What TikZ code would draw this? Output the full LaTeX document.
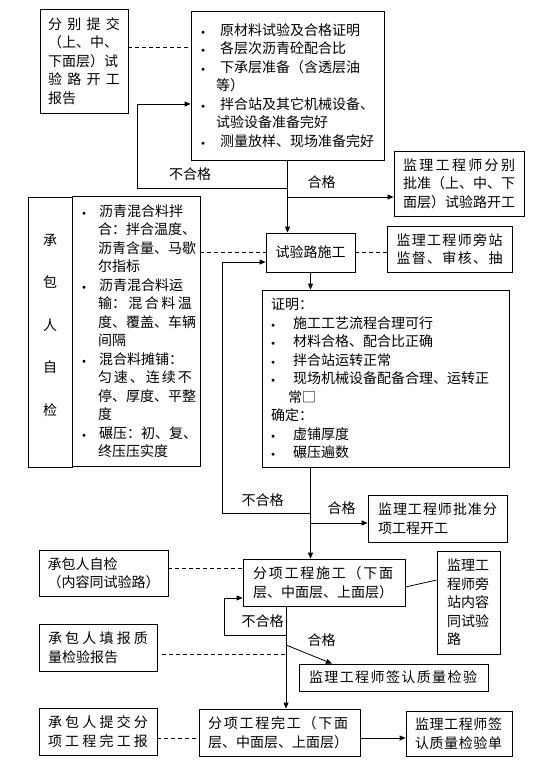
\documentclass[tikz,border=0pt]{standalone}
\usepackage{fontspec}
\setmainfont{Noto Sans CJK SC}
\usetikzlibrary{arrows.meta}
\newcommand\cnfont{\fontsize{14pt}{18.5pt}\selectfont}
\newcommand\spreadto[2]{\makebox[#1][s]{\spaceskip=0pt plus 1fil\relax #2}}
\newcommand\bul[1]{\makebox[#1][l]{\raisebox{1pt}{$\scriptscriptstyle\bullet$}}}

\begin{document}
\begin{tikzpicture}[x=1pt,y=-1pt,line width=0.8pt,
  box/.style={draw,font=\cnfont,align=left},
  lbl/.style={font=\cnfont,inner sep=0pt},
  arr/.style={-{Triangle[length=6pt,width=5pt]}},
  dashlink/.style={dash pattern=on 4pt off 3pt}]
  \useasboundingbox (0,0) rectangle (541,773);

  %top
  \node[box,at={(84,61)},text width=72pt,inner xsep=8pt,minimum height=104pt] (rep) {\spreadto{72pt}{分 别 提 交}\\（上、中、\\下面层）试\\ \spreadto{72pt}{验 路 开 工}\\报告};
  \node[box,at={(287.5,85.5)},text width=173pt,inner xsep=10pt,minimum height=149pt] (prep) {\bul{19pt}原材料试验及合格证明\\
    \bul{19pt}各层次沥青砼配合比\\
    \bul{19pt}下承层准备（含透层油\\
    \hspace*{15pt}等）\\
    \bul{19pt}拌合站及其它机械设备、\\
    \hspace*{15pt}试验设备准备完好\\
    \bul{19pt}测量放样、现场准备完好};
  \node[box,at={(459,183.5)},text width=112pt,inner xsep=9pt,minimum height=65pt] (approve1) {\spreadto{112pt}{监 理 工 程 师 分 别}\\批准（上、中、下\\面层）试验路开工};
  \node[lbl] (fail1) at (190,174) {不合格};
  \node[lbl] (pass1) at (321.5,182) {合格};

  %trial section
  \node[box,align=center,at={(310.5,252.5)},minimum width=89pt,minimum height=39pt] (trial) {试验路施工};
  \node[box,at={(449.5,249)},text width=106pt,inner xsep=9.5pt,minimum height=46pt] (superv1) {\spreadto{106pt}{监 理 工 程 师 旁 站}\\ \spreadto{106pt}{监 督 、 审 核 、 抽}};
  \node[box,at={(385.5,378.5)},text width=229pt,inner xsep=9pt,minimum height=177pt] (proof) {证明：\\
    \bul{22pt}施工工艺流程合理可行\\
    \bul{22pt}材料合格、配合比正确\\
    \bul{22pt}拌合站运转正常\\
    \bul{22pt}现场机械设备配备合理、运转正\\
    \hspace*{17pt}常□\\
    确定：\\
    \bul{22pt}虚铺厚度\\
    \bul{22pt}碾压遍数};
  \node[box,at={(50,332)},minimum width=44pt,minimum height=270pt] (self) {};
  \node[font=\fontsize{14pt}{42.5pt}\selectfont,align=center] (selftxt) at (50,325) {承\\包\\人\\自\\检};
  \node[box,at={(136,331)},text width=108pt,inner xsep=10pt,minimum height=270pt] (items) {\bul{17pt}沥青混合料拌\\
    \hspace*{16pt}合：拌合温度、\\
    \hspace*{16pt}沥青含量、马歇\\
    \hspace*{16pt}尔指标\\
    \bul{17pt}沥青混合料运\\
    \hspace*{16pt}\spreadto{94pt}{输： 混 合 料 温}\\
    \hspace*{16pt}度、覆盖、车辆\\
    \hspace*{16pt}间隔\\
    \bul{17pt}混合料摊铺：\\
    \hspace*{16pt}\spreadto{94pt}{匀 速 、 连 续 不}\\
    \hspace*{16pt}停、厚度、平整\\
    \hspace*{16pt}度\\
    \bul{17pt}碾压：初、复、\\
    \hspace*{16pt}终压压实度};
  \node[lbl] (fail2) at (262.5,500) {不合格};
  \node[lbl] (pass2) at (341.5,508) {合格};
  \node[box,at={(437.5,518.5)},text width=119pt,inner xsep=10pt,minimum height=47pt] (approve2) {\spreadto{119pt}{监 理 工 程 师 批 准 分}\\项工程开工};

  %sub-item section
  \node[box,at={(103.5,573)},text width=112pt,inner xsep=8.5pt,minimum height=46pt] (selfsub) {承包人自检\\（内容同试验路）};
  \node[box,at={(324,582.5)},text width=142pt,inner xsep=10pt,minimum height=47pt] (subwork) {\spreadto{140pt}{分 项 工 程 施 工 （ 下 面}\\层、中面层、上面层）};
  \node[box,at={(468.5,602.5)},text width=43pt,inner xsep=10pt,minimum height=103pt] (superv2) {监理工\\程师旁\\站内容\\同试验\\路};
  \node[lbl] (fail3) at (262.5,621) {不合格};
  \node[lbl] (pass3) at (321.5,640) {合格};
  \node[box,at={(98,647.5)},text width=100pt,inner xsep=9pt,minimum height=47pt] (qreport) {\spreadto{100pt}{承 包 人 填 报 质}\\量检验报告};
  \node[box,at={(393.5,677.5)},text width=169pt,inner xsep=10pt,minimum height=27pt] (sign) {\spreadto{168pt}{监 理 工 程 师 签 认 质 量 检 验}};

  %bottom
  \node[box,at={(98,731.5)},text width=100pt,inner xsep=9pt,minimum height=47pt] (submit) {\spreadto{100pt}{承 包 人 提 交 分}\\ \spreadto{100pt}{项 工 程 完 工 报}};
  \node[box,at={(279.5,732.5)},text width=143pt,inner xsep=9pt,minimum height=47pt] (finish) {\spreadto{140pt}{分 项 工 程 完 工 （ 下 面}\\层、中面层、上面层）};
  \node[box,at={(459,733.5)},text width=88pt,inner xsep=9pt,minimum height=45pt] (signsheet) {\spreadto{87pt}{监 理 工 程 师 签}\\ \spreadto{87pt}{认 质 量 检 验 单}};

  %links
  \coordinate (split) at (286,0);
  \draw[dashlink] (rep.east |- 0,47) -- (prep.west |- 0,47);
  \draw[arr] (prep.south) -- (prep.south |- trial.north);
  \draw[arr] (prep.south |- 0,188) -| (137,104) -- (prep.west |- 0,104);
  \draw[arr] (prep.south |- 0,197) -- (approve1.west |- 0,197);
  \draw[dashlink] (items.east |- trial.west) -- (trial.west);
  \draw[dashlink] (trial.east) -- (superv1.west |- trial.east);
  \draw[arr] (trial.south) -- (trial.south |- proof.north);
  \draw[arr] (trial.south |- proof.south) -- (trial.south |- subwork.north);
  \draw[arr] (trial.south |- 0,513) -| (222,262) -- (trial.west |- 0,262);
  \draw[arr] (trial.south |- 0,523) -- (approve2.west |- 0,523);
  \draw[dashlink] (selfsub.east |- 0,568) -- (subwork.west |- 0,568);
  \draw (subwork.east |- 0,587) -- (superv2.west |- 0,580);
  \draw[arr] (split |- subwork.south) -- (split |- finish.north);
  \draw[arr] (split |- 0,635) -| (224,598) -- (subwork.west |- 0,598);
  \draw[arr] (split |- 0,645) -- (332,0 |- sign.north);
  \draw[dashlink] ([xshift=5pt]qreport.east |- 0,654) -- (split |- 0,654);
  \draw[dashlink] (submit.east |- 0,738) -- (finish.west |- 0,738);
  \draw[arr] (finish.east |- 0,738) -- (signsheet.west |- 0,738);
\end{tikzpicture}
\end{document}
